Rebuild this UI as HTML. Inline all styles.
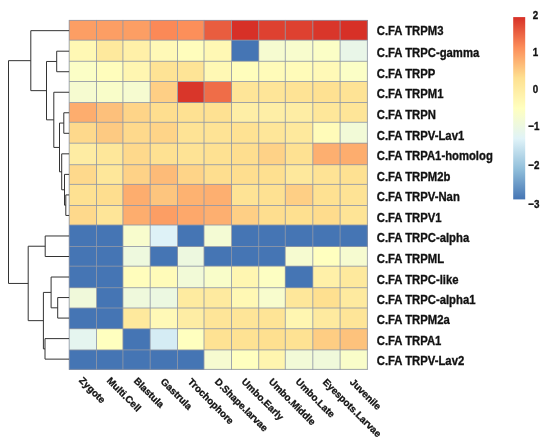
<!DOCTYPE html><html><head><meta charset="utf-8"><style>html,body{margin:0;padding:0;background:#fff;width:550px;height:447px;overflow:hidden}svg{display:block;filter:blur(0.3px)}text{font-family:"Liberation Sans",Arial,sans-serif;font-weight:bold;fill:#111;stroke:#111;stroke-width:0.3px}</style></head><body>
<svg width="550" height="447" viewBox="0 0 550 447">
<rect width="550" height="447" fill="#fff"/>
<g shape-rendering="crispEdges">
<rect x="69.20" y="20.40" width="27.80" height="20.30" fill="#fc9e64"/>
<rect x="96.50" y="20.40" width="26.90" height="20.30" fill="#fc9e64"/>
<rect x="122.90" y="20.40" width="27.80" height="20.30" fill="#fc9e64"/>
<rect x="150.20" y="20.40" width="27.80" height="20.30" fill="#fb8957"/>
<rect x="177.50" y="20.40" width="27.00" height="20.30" fill="#fc8f5a"/>
<rect x="204.00" y="20.40" width="28.00" height="20.30" fill="#e95d3f"/>
<rect x="231.50" y="20.40" width="27.70" height="20.30" fill="#d73027"/>
<rect x="258.70" y="20.40" width="27.10" height="20.30" fill="#de4130"/>
<rect x="285.30" y="20.40" width="28.00" height="20.30" fill="#de4130"/>
<rect x="312.80" y="20.40" width="27.80" height="20.30" fill="#d9362a"/>
<rect x="340.10" y="20.40" width="27.80" height="20.30" fill="#d73027"/>
<rect x="69.20" y="40.20" width="27.80" height="21.60" fill="#fff8b4"/>
<rect x="96.50" y="40.20" width="26.90" height="21.60" fill="#fee99d"/>
<rect x="122.90" y="40.20" width="27.80" height="21.60" fill="#fff0a8"/>
<rect x="150.20" y="40.20" width="27.80" height="21.60" fill="#fff9b7"/>
<rect x="177.50" y="40.20" width="27.00" height="21.60" fill="#fffdbc"/>
<rect x="204.00" y="40.20" width="28.00" height="21.60" fill="#fff8b4"/>
<rect x="231.50" y="40.20" width="27.70" height="21.60" fill="#4575b4"/>
<rect x="258.70" y="40.20" width="27.10" height="21.60" fill="#f6fbd0"/>
<rect x="285.30" y="40.20" width="28.00" height="21.60" fill="#f8fccd"/>
<rect x="312.80" y="40.20" width="27.80" height="21.60" fill="#fbfec6"/>
<rect x="340.10" y="40.20" width="27.80" height="21.60" fill="#e9f6e8"/>
<rect x="69.20" y="61.30" width="27.80" height="20.70" fill="#fbfec6"/>
<rect x="96.50" y="61.30" width="26.90" height="20.70" fill="#fffdbc"/>
<rect x="122.90" y="61.30" width="27.80" height="20.70" fill="#fff6b1"/>
<rect x="150.20" y="61.30" width="27.80" height="20.70" fill="#fee395"/>
<rect x="177.50" y="61.30" width="27.00" height="20.70" fill="#fee496"/>
<rect x="204.00" y="61.30" width="28.00" height="20.70" fill="#fff8b4"/>
<rect x="231.50" y="61.30" width="27.70" height="20.70" fill="#fffdbc"/>
<rect x="258.70" y="61.30" width="27.10" height="20.70" fill="#fffbb9"/>
<rect x="285.30" y="61.30" width="28.00" height="20.70" fill="#fffbb9"/>
<rect x="312.80" y="61.30" width="27.80" height="20.70" fill="#fff9b7"/>
<rect x="340.10" y="61.30" width="27.80" height="20.70" fill="#fbfec6"/>
<rect x="69.20" y="81.50" width="27.80" height="21.50" fill="#f6fbd0"/>
<rect x="96.50" y="81.50" width="26.90" height="21.50" fill="#f9fdc9"/>
<rect x="122.90" y="81.50" width="27.80" height="21.50" fill="#f6fbd0"/>
<rect x="150.20" y="81.50" width="27.80" height="21.50" fill="#fecf85"/>
<rect x="177.50" y="81.50" width="27.00" height="21.50" fill="#d9362a"/>
<rect x="204.00" y="81.50" width="28.00" height="21.50" fill="#ef6d48"/>
<rect x="231.50" y="81.50" width="27.70" height="21.50" fill="#fee598"/>
<rect x="258.70" y="81.50" width="27.10" height="21.50" fill="#fee598"/>
<rect x="285.30" y="81.50" width="28.00" height="21.50" fill="#fee395"/>
<rect x="312.80" y="81.50" width="27.80" height="21.50" fill="#fee192"/>
<rect x="340.10" y="81.50" width="27.80" height="21.50" fill="#fee395"/>
<rect x="69.20" y="102.50" width="27.80" height="20.30" fill="#fdad6e"/>
<rect x="96.50" y="102.50" width="26.90" height="20.30" fill="#fdc07b"/>
<rect x="122.90" y="102.50" width="27.80" height="20.30" fill="#fed488"/>
<rect x="150.20" y="102.50" width="27.80" height="20.30" fill="#fede8f"/>
<rect x="177.50" y="102.50" width="27.00" height="20.30" fill="#fee192"/>
<rect x="204.00" y="102.50" width="28.00" height="20.30" fill="#fee192"/>
<rect x="231.50" y="102.50" width="27.70" height="20.30" fill="#feeea6"/>
<rect x="258.70" y="102.50" width="27.10" height="20.30" fill="#feeea6"/>
<rect x="285.30" y="102.50" width="28.00" height="20.30" fill="#feeda4"/>
<rect x="312.80" y="102.50" width="27.80" height="20.30" fill="#fee79a"/>
<rect x="340.10" y="102.50" width="27.80" height="20.30" fill="#fee598"/>
<rect x="69.20" y="122.30" width="27.80" height="21.40" fill="#fed98c"/>
<rect x="96.50" y="122.30" width="26.90" height="21.40" fill="#fdca82"/>
<rect x="122.90" y="122.30" width="27.80" height="21.40" fill="#fed98c"/>
<rect x="150.20" y="122.30" width="27.80" height="21.40" fill="#fed488"/>
<rect x="177.50" y="122.30" width="27.00" height="21.40" fill="#fee395"/>
<rect x="204.00" y="122.30" width="28.00" height="21.40" fill="#fee395"/>
<rect x="231.50" y="122.30" width="27.70" height="21.40" fill="#fee293"/>
<rect x="258.70" y="122.30" width="27.10" height="21.40" fill="#fee699"/>
<rect x="285.30" y="122.30" width="28.00" height="21.40" fill="#fee99d"/>
<rect x="312.80" y="122.30" width="27.80" height="21.40" fill="#fffbb9"/>
<rect x="340.10" y="122.30" width="27.80" height="21.40" fill="#f2fad7"/>
<rect x="69.20" y="143.20" width="27.80" height="22.00" fill="#feeca3"/>
<rect x="96.50" y="143.20" width="26.90" height="22.00" fill="#fee79a"/>
<rect x="122.90" y="143.20" width="27.80" height="22.00" fill="#fed98c"/>
<rect x="150.20" y="143.20" width="27.80" height="22.00" fill="#fee192"/>
<rect x="177.50" y="143.20" width="27.00" height="22.00" fill="#fee395"/>
<rect x="204.00" y="143.20" width="28.00" height="22.00" fill="#fee192"/>
<rect x="231.50" y="143.20" width="27.70" height="22.00" fill="#fede8f"/>
<rect x="258.70" y="143.20" width="27.10" height="22.00" fill="#fed287"/>
<rect x="285.30" y="143.20" width="28.00" height="22.00" fill="#fee192"/>
<rect x="312.80" y="143.20" width="27.80" height="22.00" fill="#fdaf70"/>
<rect x="340.10" y="143.20" width="27.80" height="22.00" fill="#fdad6e"/>
<rect x="69.20" y="164.70" width="27.80" height="20.20" fill="#fed98c"/>
<rect x="96.50" y="164.70" width="26.90" height="20.20" fill="#fee79a"/>
<rect x="122.90" y="164.70" width="27.80" height="20.20" fill="#fed287"/>
<rect x="150.20" y="164.70" width="27.80" height="20.20" fill="#fdbb78"/>
<rect x="177.50" y="164.70" width="27.00" height="20.20" fill="#fed488"/>
<rect x="204.00" y="164.70" width="28.00" height="20.20" fill="#fede8f"/>
<rect x="231.50" y="164.70" width="27.70" height="20.20" fill="#fede8f"/>
<rect x="258.70" y="164.70" width="27.10" height="20.20" fill="#fee090"/>
<rect x="285.30" y="164.70" width="28.00" height="20.20" fill="#fee89c"/>
<rect x="312.80" y="164.70" width="27.80" height="20.20" fill="#fee395"/>
<rect x="340.10" y="164.70" width="27.80" height="20.20" fill="#fee192"/>
<rect x="69.20" y="184.40" width="27.80" height="21.60" fill="#fee192"/>
<rect x="96.50" y="184.40" width="26.90" height="21.60" fill="#fede8f"/>
<rect x="122.90" y="184.40" width="27.80" height="21.60" fill="#fdad6e"/>
<rect x="150.20" y="184.40" width="27.80" height="21.60" fill="#fdc57e"/>
<rect x="177.50" y="184.40" width="27.00" height="21.60" fill="#fdb271"/>
<rect x="204.00" y="184.40" width="28.00" height="21.60" fill="#fdaf70"/>
<rect x="231.50" y="184.40" width="27.70" height="21.60" fill="#fee395"/>
<rect x="258.70" y="184.40" width="27.10" height="21.60" fill="#fee192"/>
<rect x="285.30" y="184.40" width="28.00" height="21.60" fill="#fecf85"/>
<rect x="312.80" y="184.40" width="27.80" height="21.60" fill="#fee192"/>
<rect x="340.10" y="184.40" width="27.80" height="21.60" fill="#fee395"/>
<rect x="69.20" y="205.50" width="27.80" height="20.00" fill="#fed98c"/>
<rect x="96.50" y="205.50" width="26.90" height="20.00" fill="#fee598"/>
<rect x="122.90" y="205.50" width="27.80" height="20.00" fill="#fdad6e"/>
<rect x="150.20" y="205.50" width="27.80" height="20.00" fill="#fc9e64"/>
<rect x="177.50" y="205.50" width="27.00" height="20.00" fill="#fda86b"/>
<rect x="204.00" y="205.50" width="28.00" height="20.00" fill="#fdaf70"/>
<rect x="231.50" y="205.50" width="27.70" height="20.00" fill="#fecf85"/>
<rect x="258.70" y="205.50" width="27.10" height="20.00" fill="#fede8f"/>
<rect x="285.30" y="205.50" width="28.00" height="20.00" fill="#fee090"/>
<rect x="312.80" y="205.50" width="27.80" height="20.00" fill="#fedc8d"/>
<rect x="340.10" y="205.50" width="27.80" height="20.00" fill="#fee496"/>
<rect x="69.20" y="225.00" width="27.80" height="22.00" fill="#4575b4"/>
<rect x="96.50" y="225.00" width="26.90" height="22.00" fill="#4575b4"/>
<rect x="122.90" y="225.00" width="27.80" height="22.00" fill="#f8fccd"/>
<rect x="150.20" y="225.00" width="27.80" height="22.00" fill="#def2f7"/>
<rect x="177.50" y="225.00" width="27.00" height="22.00" fill="#4575b4"/>
<rect x="204.00" y="225.00" width="28.00" height="22.00" fill="#f4fbd4"/>
<rect x="231.50" y="225.00" width="27.70" height="22.00" fill="#4575b4"/>
<rect x="258.70" y="225.00" width="27.10" height="22.00" fill="#4575b4"/>
<rect x="285.30" y="225.00" width="28.00" height="22.00" fill="#4575b4"/>
<rect x="312.80" y="225.00" width="27.80" height="22.00" fill="#4575b4"/>
<rect x="340.10" y="225.00" width="27.80" height="22.00" fill="#4575b4"/>
<rect x="69.20" y="246.50" width="27.80" height="20.20" fill="#4575b4"/>
<rect x="96.50" y="246.50" width="26.90" height="20.20" fill="#4575b4"/>
<rect x="122.90" y="246.50" width="27.80" height="20.20" fill="#eef9de"/>
<rect x="150.20" y="246.50" width="27.80" height="20.20" fill="#4575b4"/>
<rect x="177.50" y="246.50" width="27.00" height="20.20" fill="#edf8df"/>
<rect x="204.00" y="246.50" width="28.00" height="20.20" fill="#4575b4"/>
<rect x="231.50" y="246.50" width="27.70" height="20.20" fill="#4575b4"/>
<rect x="258.70" y="246.50" width="27.10" height="20.20" fill="#4575b4"/>
<rect x="285.30" y="246.50" width="28.00" height="20.20" fill="#f6fbd0"/>
<rect x="312.80" y="246.50" width="27.80" height="20.20" fill="#ffffbf"/>
<rect x="340.10" y="246.50" width="27.80" height="20.20" fill="#f6fbd0"/>
<rect x="69.20" y="266.20" width="27.80" height="22.00" fill="#4575b4"/>
<rect x="96.50" y="266.20" width="26.90" height="22.00" fill="#4575b4"/>
<rect x="122.90" y="266.20" width="27.80" height="22.00" fill="#fffdbc"/>
<rect x="150.20" y="266.20" width="27.80" height="22.00" fill="#fffbb9"/>
<rect x="177.50" y="266.20" width="27.00" height="22.00" fill="#f2fad7"/>
<rect x="204.00" y="266.20" width="28.00" height="22.00" fill="#f9fdc9"/>
<rect x="231.50" y="266.20" width="27.70" height="22.00" fill="#fff6b1"/>
<rect x="258.70" y="266.20" width="27.10" height="22.00" fill="#fdfec2"/>
<rect x="285.30" y="266.20" width="28.00" height="22.00" fill="#4575b4"/>
<rect x="312.80" y="266.20" width="27.80" height="22.00" fill="#fff0a8"/>
<rect x="340.10" y="266.20" width="27.80" height="22.00" fill="#fee99d"/>
<rect x="69.20" y="287.70" width="27.80" height="20.80" fill="#f0f9da"/>
<rect x="96.50" y="287.70" width="26.90" height="20.80" fill="#4575b4"/>
<rect x="122.90" y="287.70" width="27.80" height="20.80" fill="#eff9dc"/>
<rect x="150.20" y="287.70" width="27.80" height="20.80" fill="#ecf8e1"/>
<rect x="177.50" y="287.70" width="27.00" height="20.80" fill="#feeba0"/>
<rect x="204.00" y="287.70" width="28.00" height="20.80" fill="#feea9f"/>
<rect x="231.50" y="287.70" width="27.70" height="20.80" fill="#fff8b4"/>
<rect x="258.70" y="287.70" width="27.10" height="20.80" fill="#f8fccd"/>
<rect x="285.30" y="287.70" width="28.00" height="20.80" fill="#fee79a"/>
<rect x="312.80" y="287.70" width="27.80" height="20.80" fill="#fee090"/>
<rect x="340.10" y="287.70" width="27.80" height="20.80" fill="#feea9f"/>
<rect x="69.20" y="308.00" width="27.80" height="21.20" fill="#4575b4"/>
<rect x="96.50" y="308.00" width="26.90" height="21.20" fill="#4575b4"/>
<rect x="122.90" y="308.00" width="27.80" height="21.20" fill="#fee99d"/>
<rect x="150.20" y="308.00" width="27.80" height="21.20" fill="#fff9b7"/>
<rect x="177.50" y="308.00" width="27.00" height="21.20" fill="#feeda4"/>
<rect x="204.00" y="308.00" width="28.00" height="21.20" fill="#fee598"/>
<rect x="231.50" y="308.00" width="27.70" height="21.20" fill="#fee598"/>
<rect x="258.70" y="308.00" width="27.10" height="21.20" fill="#fee496"/>
<rect x="285.30" y="308.00" width="28.00" height="21.20" fill="#fff6b1"/>
<rect x="312.80" y="308.00" width="27.80" height="21.20" fill="#feea9f"/>
<rect x="340.10" y="308.00" width="27.80" height="21.20" fill="#fee598"/>
<rect x="69.20" y="328.70" width="27.80" height="21.70" fill="#e5f5ef"/>
<rect x="96.50" y="328.70" width="26.90" height="21.70" fill="#ffffbf"/>
<rect x="122.90" y="328.70" width="27.80" height="21.70" fill="#4575b4"/>
<rect x="150.20" y="328.70" width="27.80" height="21.70" fill="#d5ecf4"/>
<rect x="177.50" y="328.70" width="27.00" height="21.70" fill="#ffffbf"/>
<rect x="204.00" y="328.70" width="28.00" height="21.70" fill="#fee293"/>
<rect x="231.50" y="328.70" width="27.70" height="21.70" fill="#fee293"/>
<rect x="258.70" y="328.70" width="27.10" height="21.70" fill="#fee090"/>
<rect x="285.30" y="328.70" width="28.00" height="21.70" fill="#fee293"/>
<rect x="312.80" y="328.70" width="27.80" height="21.70" fill="#fecd83"/>
<rect x="340.10" y="328.70" width="27.80" height="21.70" fill="#fdc27c"/>
<rect x="69.20" y="349.90" width="27.80" height="20.00" fill="#4575b4"/>
<rect x="96.50" y="349.90" width="26.90" height="20.00" fill="#4575b4"/>
<rect x="122.90" y="349.90" width="27.80" height="20.00" fill="#4575b4"/>
<rect x="150.20" y="349.90" width="27.80" height="20.00" fill="#4575b4"/>
<rect x="177.50" y="349.90" width="27.00" height="20.00" fill="#4575b4"/>
<rect x="204.00" y="349.90" width="28.00" height="20.00" fill="#f6fbd0"/>
<rect x="231.50" y="349.90" width="27.70" height="20.00" fill="#ffffbf"/>
<rect x="258.70" y="349.90" width="27.10" height="20.00" fill="#fff5af"/>
<rect x="285.30" y="349.90" width="28.00" height="20.00" fill="#f2fad7"/>
<rect x="312.80" y="349.90" width="27.80" height="20.00" fill="#f0f9da"/>
<rect x="340.10" y="349.90" width="27.80" height="20.00" fill="#f9fdc9"/>
</g>
<path d="M69.20 19.97V369.82M96.50 19.97V369.82M122.90 19.97V369.82M150.20 19.97V369.82M177.50 19.97V369.82M204.00 19.97V369.82M231.50 19.97V369.82M258.70 19.97V369.82M285.30 19.97V369.82M312.80 19.97V369.82M340.10 19.97V369.82M367.40 19.97V369.82M69.20 20.40H367.40M69.20 40.20H367.40M69.20 61.30H367.40M69.20 81.50H367.40M69.20 102.50H367.40M69.20 122.30H367.40M69.20 143.20H367.40M69.20 164.70H367.40M69.20 184.40H367.40M69.20 205.50H367.40M69.20 225.00H367.40M69.20 246.50H367.40M69.20 266.20H367.40M69.20 287.70H367.40M69.20 308.00H367.40M69.20 328.70H367.40M69.20 349.90H367.40M69.20 369.40H367.40" fill="none" stroke="#9097a6" stroke-width="0.85"/>
<path d="M69.10 51.20H56.70V71.72H69.10M69.10 112.78H63.80V133.31H69.10M69.10 194.91H65.80V215.44H69.10M69.10 174.38H64.50V205.17H65.80M69.10 153.84H61.70V189.77H64.50M63.80 123.05H59.50V171.81H61.70M69.10 92.25H53.80V147.43H59.50M56.70 61.46H46.50V119.84H53.80M69.10 30.66H30.80V90.65H46.50M69.10 235.97H45.20V256.50H69.10M69.10 297.56H57.70V318.08H69.10M69.10 277.02H51.10V307.82H57.70M69.10 338.62H45.00V359.14H69.10M51.10 292.42H43.40V348.88H45.00M45.20 246.23H28.20V320.65H43.40M30.80 60.66H8.50V283.44H28.20" fill="none" stroke="#333" stroke-width="1"/>
<text transform="translate(376.80 30.46) scale(1 1.07)" font-size="11.3" dominant-baseline="central">C.FA TRPM3</text>
<text transform="translate(376.80 51.99) scale(1 1.07)" font-size="11.3" dominant-baseline="central">C.FA TRPC-gamma</text>
<text transform="translate(376.80 73.02) scale(1 1.07)" font-size="11.3" dominant-baseline="central">C.FA TRPP</text>
<text transform="translate(376.80 93.85) scale(1 1.07)" font-size="11.3" dominant-baseline="central">C.FA TRPM1</text>
<text transform="translate(376.80 114.58) scale(1 1.07)" font-size="11.3" dominant-baseline="central">C.FA TRPN</text>
<text transform="translate(376.80 135.12) scale(1 1.07)" font-size="11.3" dominant-baseline="central">C.FA TRPV-Lav1</text>
<text transform="translate(376.80 155.65) scale(1 1.07)" font-size="11.3" dominant-baseline="central">C.FA TRPA1-homolog</text>
<text transform="translate(376.80 176.08) scale(1 1.07)" font-size="11.3" dominant-baseline="central">C.FA TRPM2b</text>
<text transform="translate(376.80 196.51) scale(1 1.07)" font-size="11.3" dominant-baseline="central">C.FA TRPV-Nan</text>
<text transform="translate(376.80 217.14) scale(1 1.07)" font-size="11.3" dominant-baseline="central">C.FA TRPV1</text>
<text transform="translate(376.80 237.77) scale(1 1.07)" font-size="11.3" dominant-baseline="central">C.FA TRPC-alpha</text>
<text transform="translate(376.80 258.40) scale(1 1.07)" font-size="11.3" dominant-baseline="central">C.FA TRPML</text>
<text transform="translate(376.80 279.02) scale(1 1.07)" font-size="11.3" dominant-baseline="central">C.FA TRPC-like</text>
<text transform="translate(376.80 299.36) scale(1 1.07)" font-size="11.3" dominant-baseline="central">C.FA TRPC-alpha1</text>
<text transform="translate(376.80 319.69) scale(1 1.07)" font-size="11.3" dominant-baseline="central">C.FA TRPM2a</text>
<text transform="translate(376.80 339.92) scale(1 1.07)" font-size="11.3" dominant-baseline="central">C.FA TRPA1</text>
<text transform="translate(376.80 360.25) scale(1 1.07)" font-size="11.3" dominant-baseline="central">C.FA TRPV-Lav2</text>
<text transform="translate(81.06 378.60) rotate(45)" font-size="9.8" dominant-baseline="central">Zygote</text>
<text transform="translate(108.68 378.80) rotate(45)" font-size="9.8" dominant-baseline="central">Multi.Cell</text>
<text transform="translate(135.60 379.00) rotate(45)" font-size="9.8" dominant-baseline="central">Blastula</text>
<text transform="translate(162.52 379.70) rotate(45)" font-size="9.8" dominant-baseline="central">Gastrula</text>
<text transform="translate(189.84 380.00) rotate(45)" font-size="9.8" dominant-baseline="central">Trochophore</text>
<text transform="translate(216.66 379.90) rotate(45)" font-size="9.8" dominant-baseline="central">D.Shape.larvae</text>
<text transform="translate(243.58 379.80) rotate(45)" font-size="9.8" dominant-baseline="central">Umbo.Early</text>
<text transform="translate(270.60 379.90) rotate(45)" font-size="9.8" dominant-baseline="central">Umbo.Middle</text>
<text transform="translate(297.52 379.90) rotate(45)" font-size="9.8" dominant-baseline="central">Umbo.Late</text>
<text transform="translate(324.64 380.20) rotate(45)" font-size="9.8" dominant-baseline="central">Eyespots.Larvae</text>
<text transform="translate(351.76 380.20) rotate(45)" font-size="9.8" dominant-baseline="central">Juvenile</text>
<defs><linearGradient id="g" x1="0" y1="1" x2="0" y2="0">
<stop offset="0.0000" stop-color="#4575B4"/>
<stop offset="0.1667" stop-color="#91BFDB"/>
<stop offset="0.3333" stop-color="#E0F3F8"/>
<stop offset="0.5000" stop-color="#FFFFBF"/>
<stop offset="0.6667" stop-color="#FEE090"/>
<stop offset="0.8333" stop-color="#FC8D59"/>
<stop offset="1.0000" stop-color="#D73027"/>
</linearGradient></defs>
<rect x="513.2" y="17.1" width="12.0" height="182.3" fill="url(#g)"/>
<text transform="translate(538.1 15.4) scale(1 1.12)" font-size="9.8" text-anchor="end" dominant-baseline="central">2</text>
<text transform="translate(538.1 52.6) scale(1 1.12)" font-size="9.8" text-anchor="end" dominant-baseline="central">1</text>
<text transform="translate(538.1 89.8) scale(1 1.12)" font-size="9.8" text-anchor="end" dominant-baseline="central">0</text>
<text transform="translate(539.4 126.8) scale(1 1.12)" font-size="9.8" text-anchor="end" dominant-baseline="central">−1</text>
<text transform="translate(539.4 165.3) scale(1 1.12)" font-size="9.8" text-anchor="end" dominant-baseline="central">−2</text>
<text transform="translate(539.4 203.9) scale(1 1.12)" font-size="9.8" text-anchor="end" dominant-baseline="central">−3</text>
</svg></body></html>
